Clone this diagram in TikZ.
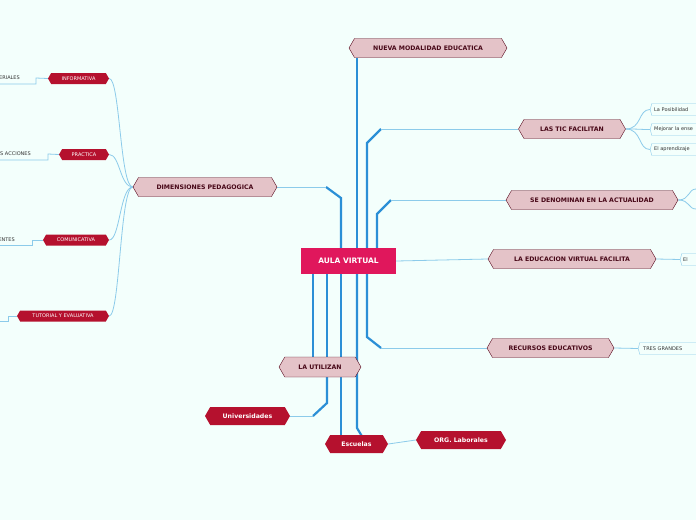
\documentclass[tikz,border=0pt]{standalone}
\usepackage{fontspec}
\setmainfont{DejaVu Sans}
\usetikzlibrary{shapes.symbols,backgrounds}
\definecolor{bg}{HTML}{F3FFFC}
\definecolor{trunk}{HTML}{2B8FD6}
\definecolor{thinc}{HTML}{8CCBEA}
\definecolor{pinkfill}{HTML}{E4C3C8}
\definecolor{pinkdraw}{HTML}{5A0A1E}
\definecolor{darkred}{HTML}{B5112E}
\definecolor{central}{HTML}{E0175C}
\begin{document}
\begin{tikzpicture}[x=1pt,y=-1pt,
  hexa/.style={signal,signal to=east and west,signal pointer angle=120,inner sep=0pt,minimum height=19pt,font=\bfseries\fontsize{6.2}{7}\selectfont},
  main/.style={hexa,fill=pinkfill,draw=pinkdraw,text=pinkdraw!80!black},
  red/.style={hexa,fill=darkred,text=white,minimum height=18pt},
  sred/.style={hexa,fill=darkred,text=white,minimum height=11pt,font=\fontsize{5}{6}\selectfont},
  leaf/.style={hexa,draw=thinc,fill=bg,minimum height=12pt,font=\fontsize{5}{6}\selectfont,text=black!80,signal pointer angle=150},
  tk/.style={trunk,line width=2.2pt},
  tn/.style={thinc,line width=0.8pt},
  ltxt/.style={font=\fontsize{5}{6}\selectfont,text=black!80,inner sep=1pt}]
\useasboundingbox (0,0) rectangle (696,520);
% nodes
\node[fill=central,text=white,font=\bfseries\fontsize{7.5}{9}\selectfont,minimum width=95pt,minimum height=26pt,inner sep=0pt] (av) at (348.5,261) {AULA VIRTUAL};
\node[main,minimum width=158pt] (nm) at (428,48) {NUEVA MODALIDAD EDUCATICA};
\node[main,minimum width=107pt] (tic) at (572,129) {LAS TIC FACILITAN};
\node[main,minimum width=172pt] (se) at (592,200) {SE DENOMINAN EN LA ACTUALIDAD};
\node[main,minimum width=168pt] (ev) at (572,259) {LA EDUCACION VIRTUAL FACILITA};
\node[main,minimum width=127pt] (re) at (550.5,348) {RECURSOS EDUCATIVOS};
\node[main,minimum width=144pt] (dp) at (205,187) {DIMENSIONES PEDAGOGICA};
\node[main,minimum width=82pt,minimum height=20pt] (lu) at (320,367) {LA UTILIZAN};
\node[red,minimum width=85pt] (un) at (247.5,416) {Universidades};
\node[red,minimum width=63pt] (es) at (356.5,444) {Escuelas};
\node[red,minimum width=90pt] (org) at (461,440) {ORG. Laborales};
\node[sred,minimum width=61pt] (inf) at (78.5,78.5) {INFORMATIVA};
\node[sred,minimum width=50pt] (pra) at (84,154.5) {PRACTICA};
\node[sred,minimum width=66pt] (com) at (76,240) {COMUNICATIVA};
\node[sred,minimum width=92pt] (tut) at (63,316) {TUTORIAL Y EVALUATIVA};
% right leaves
\node[leaf,minimum width=60pt,anchor=west,text width=52pt,align=left] (l1) at (650,109.5) {La Posibilidad};
\node[leaf,minimum width=60pt,anchor=west,text width=52pt,align=left] (l2) at (650,129.5) {Mejorar la ense};
\node[leaf,minimum width=60pt,anchor=west,text width=52pt,align=left] (l3) at (650,149.5) {El aprendizaje};
\node[leaf,minimum width=30pt,anchor=west,text width=24pt,align=left] (l4) at (680,259.5) {El};
\node[leaf,minimum width=80pt,anchor=west,text width=70pt,align=left] (l5) at (638,348.5) {TRES GRANDES};
\coordinate (s1) at (696,189);
\coordinate (s2) at (696,209);
% left leaves
\node[ltxt,anchor=east] (t1) at (21,78) {MATERIALES};
\node[ltxt,anchor=east] (t2) at (32,154) {LAS ACCIONES};
\node[ltxt,anchor=east] (t3) at (16,240) {DOCENTES};
\begin{pgfonlayer}{background}
\fill[bg] (0,0) rectangle (696,520);
% thick trunks
\draw[tk] (357,248) -- (357,58);
\draw[tk] (367,248) -- (367,143) -- (381,129);
\draw[tn] (381,129) -- (tic.west);
\draw[tk] (377,248) -- (377,214) -- (391,200);
\draw[tn] (391,200) -- (se.west);
\draw[tn] (av.east) -- (ev.west);
\draw[tk] (367,274) -- (367,337) -- (381,348);
\draw[tn] (381,348) -- (re.west);
\draw[tk] (341,248) -- (341,198) -- (326,187);
\draw[tn] (326,187) -- (dp.east);
\draw[tk] (313,274) -- (313,360);
\draw[tk] (327,274) -- (327,360);
\draw[tk] (327,370) -- (327,403) -- (313,416);
\draw[tn] (313,416) -- (un.east);
\draw[tk] (341,274) -- (341,440);
\draw[tk] (357,274) -- (357,428) -- (363,438);
\draw[tn] (es.east) -- (org.west);
% thin branches left
\foreach \n in {inf,pra,com,tut}
  \draw[tn] (dp.west) .. controls (120,187) and (120,0|-\n.east) .. (\n.east);
\draw[tn] (inf.west) -- (36,78) -- (36,84) -- (0,84);
\draw[tn] (pra.west) -- (48,154) -- (48,160) -- (0,160);
\draw[tn] (com.west) -- (32,240) -- (32,245) -- (0,245);
\draw[tn] (tut.west) -- (8,316) -- (8,321) -- (0,321);
% thin branches right
\foreach \n in {l1,l2,l3}
  \draw[tn] (tic.east) .. controls (642,129) and (638,0|-\n.west) .. (\n.west);
\draw[tn] (se.east) .. controls (690,200) and (688,189) .. (s1);
\draw[tn] (se.east) .. controls (690,200) and (688,209) .. (s2);
\draw[tn] (ev.east) -- (l4.west);
\draw[tn] (re.east) -- (l5.west);
\end{pgfonlayer}
\end{tikzpicture}
\end{document}
